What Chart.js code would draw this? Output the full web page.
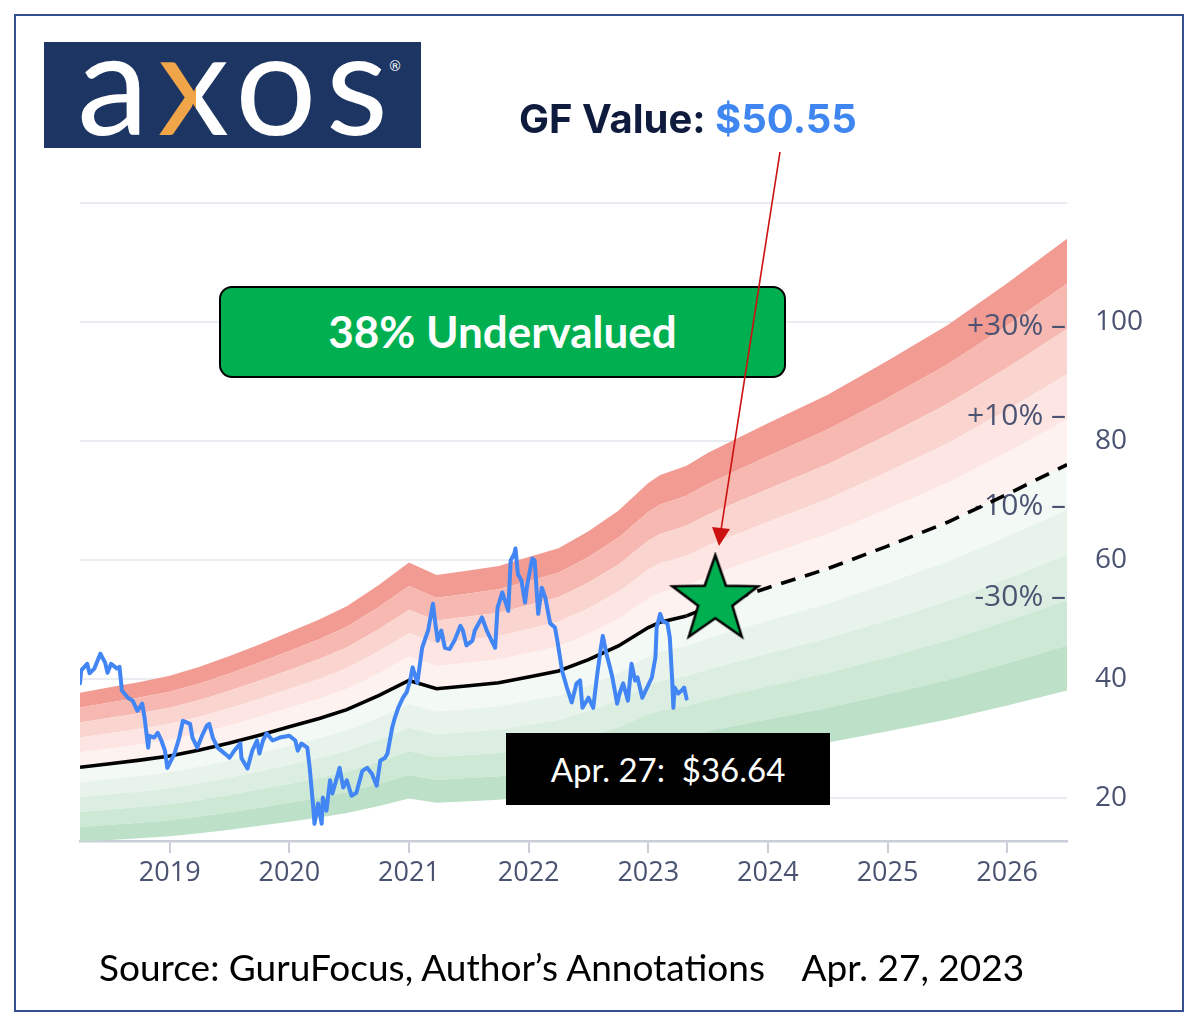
<!DOCTYPE html>
<html>
<head>
<meta charset="utf-8">
<script src="https://cdn.jsdelivr.net/npm/chart.js@4.4.1/dist/chart.umd.min.js"></script>
<style>
  html, body { margin:0; padding:0; background:#fff; }
  body { width:1200px; height:1031px; position:relative; overflow:hidden; }
  #frame { position:absolute; left:14px; top:14px; width:1170px; height:998px; border:2px solid #34508f; box-sizing:border-box; }
  #logo { position:absolute; left:44px; top:42px; width:377px; height:106px; background:#1c3563; overflow:hidden; }
  #logoText { position:absolute; left:33px; top:-49px; font-family:'Lato'; font-weight:400; font-size:144px; color:#fff; letter-spacing:9px; line-height:normal; white-space:nowrap; }
  #logoText .x { background:linear-gradient(90deg, #f0a548 0%, #f0a548 50%, #ffffff 50%, #ffffff 100%); -webkit-background-clip:text; background-clip:text; color:transparent; }
  #reg { position:absolute; left:388px; top:58px; font-family:'DejaVu Sans'; font-size:14px; color:#fff; }
  #gfv { position:absolute; left:519px; top:94px; font-family:'Inter'; font-weight:700; font-size:40px; color:#0f1b3c; white-space:nowrap; }
  #gfv span { color:#3f86f0; }
  #uv { position:absolute; left:219px; top:286px; width:567px; height:92px; box-sizing:border-box; background:#00b050; border:2px solid #000; border-radius:13px; display:flex; align-items:center; justify-content:center; font-family:'Lato'; font-weight:700; font-size:44px; color:#fff; padding-bottom:2px; }
  #price { position:absolute; left:506px; top:733px; width:324px; height:72px; background:#000; display:flex; align-items:center; justify-content:center; font-family:'Lato'; font-size:33px; color:#fff; white-space:pre; }
  #src { position:absolute; left:99px; top:944px; font-family:'Lato'; font-size:37px; color:#000; white-space:pre; }
  #wrap { position:absolute; left:0; top:0; width:1200px; height:1031px; }
  #arrow { position:absolute; left:0; top:0; width:1200px; height:1031px; pointer-events:none; }
</style>
</head>
<body>
<div id="frame"></div>
<div id="wrap"><canvas id="c"></canvas></div>
<div id="logo"><div id="logoText">a<span class="x">x</span>os</div></div>
<div id="reg">®</div>
<div id="gfv">GF Value: <span>$50.55</span></div>
<div id="uv">38% Undervalued</div>
<svg id="arrow" viewBox="0 0 1200 1031">
  <line x1="780" y1="152" x2="721" y2="530" stroke="#cc1111" stroke-width="1.6"/>
  <polygon points="712,527 730,529 719,546" fill="#cc1111"/>
</svg>
<div id="price">Apr. 27:  $36.64</div>
<div id="src">Source: GuruFocus, Author’s Annotations    Apr. 27, 2023</div>
<script>
// ---------- DATA ----------
const gfYears  = [2018.25, 2018.5, 2018.75, 2019.0, 2019.25, 2019.5, 2019.75, 2020.0, 2020.25, 2020.48, 2020.75, 2021.0, 2021.23, 2021.5, 2021.75, 2022.0, 2022.25, 2022.5, 2022.75, 2023.0, 2023.1, 2023.32, 2023.5, 2024.0, 2024.5, 2025.0, 2025.5, 2026.0, 2026.5];
const gfValues = [25.1, 25.7, 26.3, 27.0, 28.0, 29.2, 30.5, 31.9, 33.3, 34.8, 37.2, 39.7, 38.3, 38.8, 39.3, 40.3, 41.3, 43.2, 45.5, 48.6, 49.5, 50.55, 52.0, 55.3, 58.5, 62.3, 66.3, 71.0, 76.0];
const currentYear = 2023.32;

const priceYears = [2018.25, 2018.26, 2018.31, 2018.33, 2018.37, 2018.42, 2018.46, 2018.48, 2018.51, 2018.56, 2018.58, 2018.60, 2018.65, 2018.69, 2018.73, 2018.77, 2018.79, 2018.82, 2018.83, 2018.87, 2018.90, 2018.93, 2018.96, 2018.98, 2019.02, 2019.04, 2019.08, 2019.11, 2019.17, 2019.19, 2019.23, 2019.27, 2019.31, 2019.33, 2019.36, 2019.40, 2019.46, 2019.50, 2019.54, 2019.59, 2019.60, 2019.65, 2019.69, 2019.73, 2019.75, 2019.78, 2019.81, 2019.86, 2019.92, 2020.00, 2020.05, 2020.07, 2020.10, 2020.15, 2020.17, 2020.20, 2020.21, 2020.24, 2020.27, 2020.28, 2020.31, 2020.34, 2020.36, 2020.42, 2020.45, 2020.48, 2020.52, 2020.56, 2020.61, 2020.65, 2020.69, 2020.73, 2020.76, 2020.80, 2020.82, 2020.86, 2020.88, 2020.91, 2020.95, 2020.98, 2021.01, 2021.03, 2021.07, 2021.11, 2021.13, 2021.16, 2021.20, 2021.22, 2021.24, 2021.27, 2021.30, 2021.34, 2021.38, 2021.43, 2021.45, 2021.48, 2021.53, 2021.55, 2021.61, 2021.65, 2021.72, 2021.74, 2021.78, 2021.83, 2021.85, 2021.88, 2021.89, 2021.91, 2021.94, 2021.97, 2021.99, 2022.03, 2022.05, 2022.08, 2022.11, 2022.14, 2022.18, 2022.22, 2022.24, 2022.28, 2022.32, 2022.36, 2022.40, 2022.43, 2022.45, 2022.50, 2022.54, 2022.57, 2022.60, 2022.62, 2022.65, 2022.68, 2022.70, 2022.74, 2022.76, 2022.79, 2022.83, 2022.86, 2022.89, 2022.91, 2022.95, 2022.99, 2023.03, 2023.06, 2023.07, 2023.10, 2023.12, 2023.16, 2023.18, 2023.20, 2023.21, 2023.22, 2023.25, 2023.28, 2023.30, 2023.32];
const priceValues = [39.2, 41.4, 42.5, 40.9, 41.7, 44.2, 42.7, 41.0, 42.5, 41.7, 42.0, 38.0, 36.8, 36.3, 34.6, 35.8, 33.4, 28.4, 30.4, 30.1, 30.9, 29.6, 27.9, 25.0, 26.6, 27.4, 30.1, 32.9, 32.4, 30.1, 28.4, 30.4, 32.1, 32.4, 30.1, 28.4, 27.4, 26.7, 27.9, 29.1, 26.6, 24.9, 27.9, 29.6, 27.4, 29.6, 30.8, 29.6, 30.1, 30.4, 29.6, 27.9, 29.1, 28.4, 25.0, 18.3, 15.6, 19.0, 15.6, 20.0, 17.8, 22.9, 20.7, 25.0, 21.7, 22.9, 20.3, 20.8, 24.5, 25.0, 24.0, 22.0, 26.2, 26.7, 27.4, 31.8, 33.3, 35.1, 36.8, 37.7, 39.7, 41.9, 39.3, 45.2, 46.4, 48.1, 52.6, 49.3, 46.4, 48.1, 45.2, 45.0, 46.4, 48.9, 48.1, 45.6, 46.4, 48.1, 50.3, 48.1, 45.2, 51.9, 54.5, 51.4, 59.9, 61.0, 61.9, 57.6, 56.5, 52.8, 56.0, 60.2, 59.9, 50.9, 55.3, 53.6, 49.3, 48.6, 46.4, 41.3, 38.5, 36.0, 39.2, 39.7, 35.1, 36.8, 35.1, 40.2, 44.7, 47.2, 44.2, 41.9, 40.2, 35.8, 37.5, 39.2, 36.3, 42.5, 39.7, 40.2, 36.8, 38.5, 40.2, 43.6, 48.6, 50.9, 49.7, 49.3, 46.9, 39.7, 35.1, 38.5, 37.5, 38.0, 38.5, 36.64];

const starYear = 2023.56;
const starValue = 53.2;

const bandMultipliers = [0.5, 0.6, 0.7, 0.8, 0.9, 1.0, 1.1, 1.2, 1.3, 1.4, 1.5];
const bandColors = ['#bde0c8', '#cde8d5', '#dbeee1', '#e8f4eb', '#f3f9f4', '#fef2f0', '#fce5e2', '#fad5d0', '#f6b8b0', '#f29b92'];
const pctLabels = ['+30%', '+10%', '-10%', '-30%'];
const pctValues = [0.30, 0.10, -0.10, -0.30];
const xTicks = [2019, 2020, 2021, 2022, 2023, 2024, 2025, 2026];
const yTicks = [20, 40, 60, 80, 100, 120];

// ---------- STAR IMAGE ----------
function makeStar(R) {
  const c = document.createElement('canvas');
  const size = Math.ceil(R * 2 + 6);
  c.width = size; c.height = size;
  const g = c.getContext('2d');
  const cx = size / 2, cy = size / 2, r = R * 0.4;
  g.beginPath();
  for (let i = 0; i < 10; i++) {
    const rad = i % 2 === 0 ? R : r;
    const a = -Math.PI / 2 + i * Math.PI / 5;
    const px = cx + rad * Math.cos(a), py = cy + rad * Math.sin(a);
    i === 0 ? g.moveTo(px, py) : g.lineTo(px, py);
  }
  g.closePath();
  g.fillStyle = '#00b050';
  g.fill();
  g.lineWidth = 2.5;
  g.strokeStyle = '#000';
  g.lineJoin = 'miter';
  g.stroke();
  return c;
}
const starImg = makeStar(45);

// ---------- DATASETS ----------
const datasets = [];
datasets.push({
  label: 'Star', type: 'scatter',
  data: [{ x: starYear, y: starValue }],
  pointStyle: starImg, pointRadius: 45, order: 0
});
datasets.push({
  label: 'Price', data: priceYears.map((x, i) => ({ x, y: priceValues[i] })),
  borderColor: '#4285f4', borderWidth: 4, pointRadius: 0, fill: false, tension: 0, order: 1,
  borderJoinStyle: 'round', borderCapStyle: 'round'
});
datasets.push({
  label: 'GF', data: gfYears.map((x, i) => ({ x, y: gfValues[i] })),
  borderColor: '#000', borderWidth: 3.6, pointRadius: 0, fill: false, tension: 0, order: 2,
  segment: { borderDash: ctx => ctx.p0.parsed.x >= currentYear - 0.001 ? [15, 10] : undefined }
});
bandMultipliers.forEach((m, k) => {
  datasets.push({
    label: 'band' + k,
    data: gfYears.map((x, i) => ({ x, y: gfValues[i] * m })),
    borderWidth: 0, borderColor: 'rgba(0,0,0,0)', pointRadius: 0, tension: 0,
    fill: k === 0 ? false : '-1',
    backgroundColor: k === 0 ? 'rgba(0,0,0,0)' : bandColors[k - 1],
    order: 10
  });
});

const tickColor = '#4b5372';

const pctPlugin = {
  id: 'pct',
  beforeDatasetDraw(chart, args) {
    if (chart.data.datasets[args.index].label !== 'GF') return;
    const ctx = chart.ctx, ys = chart.scales.y, area = chart.chartArea;
    const last = gfValues[gfValues.length - 1];
    ctx.save();
    ctx.font = "30px 'Open Sans'";
    ctx.fillStyle = tickColor;
    ctx.textAlign = 'right';
    ctx.textBaseline = 'middle';
    pctValues.forEach((p, i) => {
      ctx.fillText(pctLabels[i] + ' \u2013', area.right - 1, ys.getPixelForValue(last * (1 + p)) - 3);
    });
    ctx.restore();
  }
};

Chart.defaults.font.family = "'Open Sans'";
new Chart(document.getElementById('c'), {
  type: 'line',
  data: { datasets },
  plugins: [pctPlugin],
  options: {
    responsive: true, maintainAspectRatio: false, animation: false,
    layout: { padding: { left: 80, top: 203, right: 0, bottom: 130 } },
    plugins: { legend: { display: false }, tooltip: { enabled: false }, filler: { propagate: false } },
    scales: {
      x: {
        type: 'linear', min: 2018.25, max: 2026.5,
        afterBuildTicks: s => { s.ticks = xTicks.map(v => ({ value: v })); },
        afterFit: s => { s.height = 60; s.paddingLeft = 0; s.paddingRight = 0; },
        ticks: { color: tickColor, font: { size: 27 }, padding: 4, maxRotation: 0, callback: v => String(v) },
        grid: { display: true, drawOnChartArea: false, drawTicks: true, tickLength: 12, color: '#c9ced8', lineWidth: 2 },
        border: { display: true, color: '#c9ced8', width: 2.5 }
      },
      y: {
        type: 'linear', position: 'right', min: 12.7, max: 120,
        afterBuildTicks: s => { s.ticks = yTicks.map(v => ({ value: v })); },
        afterFit: s => { s.width = 133; s.paddingTop = 0; s.paddingBottom = 0; },
        ticks: { color: tickColor, font: { size: 28 }, padding: 28, callback: v => v === 120 ? '' : String(v) },
        grid: { color: '#e9ecf1', lineWidth: 2, drawTicks: false },
        border: { display: false }
      }
    }
  }
});
</script>
</body>
</html>
